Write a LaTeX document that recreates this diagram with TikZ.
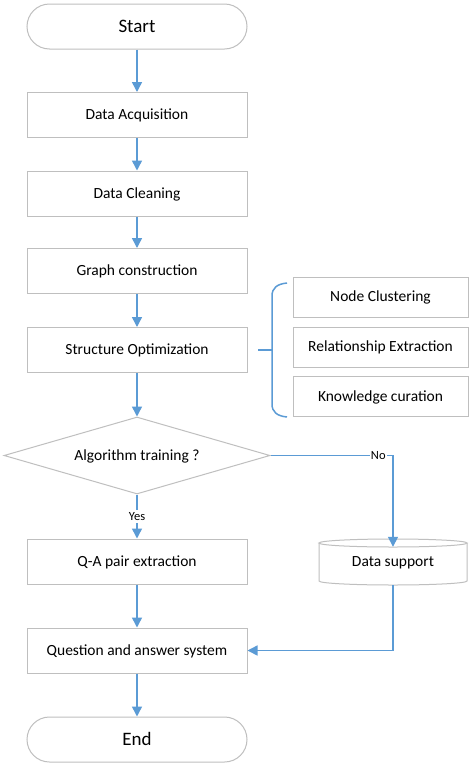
\documentclass[tikz,border=0pt]{standalone}
\usepackage{fontspec}
\setmainfont{Carlito}
\usetikzlibrary{arrows.meta,shapes.geometric}
\definecolor{boxgray}{RGB}{191,191,191}
\definecolor{flowblue}{RGB}{91,155,213}
\begin{document}
\begin{tikzpicture}[x=1pt,y=-1pt,
  mainfont/.style={font=\fontsize{15.5}{18}\selectfont,text height=11.5pt,text depth=2.5pt},
  box/.style={draw=boxgray,line width=1pt,minimum width=220pt,minimum height=45pt,inner sep=0pt,mainfont},
  term/.style={box,rounded corners=22.5pt,font=\fontsize{19}{22}\selectfont,text height=14.5pt,text depth=2.5pt},
  side/.style={box,minimum width=175pt,minimum height=40pt},
  flow/.style={draw=flowblue,line width=1.5pt,-{Triangle[width=10pt,length=10pt]}},
  bracepath/.style={draw=flowblue,line width=1.5pt},
  lbl/.style={fill=white,inner sep=1pt,font=\fontsize{12.5}{14}\selectfont,text height=9.5pt,text depth=2pt}]
\useasboundingbox[fill=white] (0,0) rectangle (472,766);
% main column
\node[term] (start) at (137,26.5) {Start};
\node[box] (acq) at (137,115) {Data Acquisition};
\node[box] (clean) at (137,193.5) {Data Cleaning};
\node[box] (graph) at (137,271) {Graph construction};
\node[box] (struct) at (137,350) {Structure Optimization};
\node[draw=boxgray,line width=1pt,diamond,aspect=3.45,minimum width=266pt,minimum height=77pt,inner sep=0pt,mainfont] (dia) at (137,455.5) {Algorithm training ?};
\node[box] (qa) at (137,561.5) {Q-A pair extraction};
\node[box] (qas) at (137,650.5) {Question and answer system};
\node[term] (end) at (137,739.5) {End};
% side boxes
\node[side] (nc) at (380.5,297) {Node Clustering};
\node[side] (re) at (380.5,347) {Relationship Extraction};
\node[side] (kc) at (380.5,396.5) {Knowledge curation};
% data support cylinder
\node[minimum width=148pt,minimum height=46pt,inner sep=0pt,mainfont] (ds) at (393,562) {Data support};
\draw[draw=boxgray,line width=1pt] (393,543) ellipse [x radius=74pt, y radius=4pt];
\draw[draw=boxgray,line width=1pt] (319,543) -- (319,581) arc[start angle=180,end angle=360,x radius=74pt,y radius=4pt] -- (467,543);
% brace
\coordinate (btop) at (287,283);
\coordinate (bbot) at (287,417);
\coordinate (bmid) at (272,350);
\coordinate (btick) at (258,350);
\draw[bracepath] (btop) .. controls (277,284) and (272,288) .. (272,296) -- (272,404) .. controls (272,412) and (277,416) .. (bbot);
\draw[bracepath] (btick) -- (bmid);
% arrows
\draw[flow] (start) -- (acq);
\draw[flow] (acq) -- (clean);
\draw[flow] (clean) -- (graph);
\draw[flow] (graph) -- (struct);
\draw[flow] (struct) -- (dia);
\draw[flow] (dia) -- node[lbl,pos=0.5]{Yes} (qa);
\coordinate (dstop) at ([yshift=-8pt]ds.north);
\draw[flow] (dia.east) -| node[lbl,pos=0.44]{No} (dstop);
\draw[flow] (ds.south) |- (qas.east);
\draw[flow] (qa) -- (qas);
\draw[flow] (qas) -- (end);
\end{tikzpicture}
\end{document}
